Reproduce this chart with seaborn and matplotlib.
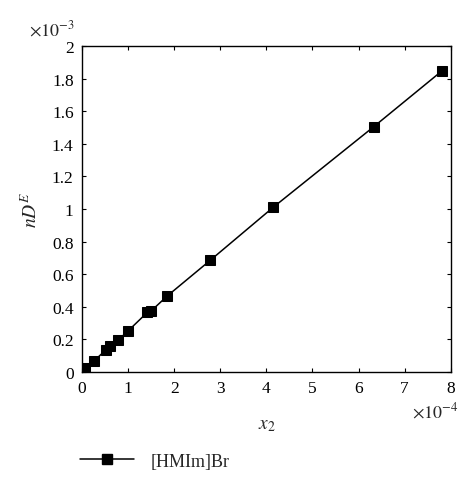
import matplotlib
matplotlib.use("Agg")
import matplotlib.pyplot as plt
import seaborn as sns
import pandas as pd

# mole fraction x2 (units of 1e-4) and nD^E (units of 1e-3)
x2_e4 = [0.07, 0.27, 0.51, 0.60, 0.78, 0.99, 1.42, 1.50, 1.85, 2.78, 4.15, 6.33, 7.80]
nde_e3 = [0.025, 0.071, 0.134, 0.160, 0.196, 0.250, 0.367, 0.375, 0.467, 0.685, 1.011, 1.505, 1.845]
series_name = "[HMIm]Br"
x_ticks = [0, 1, 2, 3, 4, 5, 6, 7, 8]
y_ticks = [0, 0.2, 0.4, 0.6, 0.8, 1.0, 1.2, 1.4, 1.6, 1.8, 2.0]
y_tick_labels = ["0", "0.2", "0.4", "0.6", "0.8", "1", "1.2", "1.4", "1.6", "1.8", "2"]

df = pd.DataFrame({"x2": x2_e4, "nDE": nde_e3, "salt": series_name})

sns.set_theme(style="ticks")
plt.rcParams["font.family"] = ["Liberation Serif", "DejaVu Serif"]
plt.rcParams["mathtext.fontset"] = "stix"
plt.rcParams["xtick.direction"] = "in"
plt.rcParams["ytick.direction"] = "in"

fig = plt.figure(figsize=(4.74, 4.89), dpi=100)
ax = fig.add_axes([0.173, 0.237, 0.778, 0.667])

sns.lineplot(data=df, x="x2", y="nDE", hue="salt", palette=["black"],
             marker="s", markersize=7.3, markeredgecolor="black",
             linewidth=1.1, ax=ax, legend=False)

ax.set_xlim(0, 8)
ax.set_ylim(0, 2)
ax.set_xticks(x_ticks)
ax.set_xticklabels([str(t) for t in x_ticks])
ax.set_yticks(y_ticks)
ax.set_yticklabels(y_tick_labels)
ax.tick_params(axis="both", labelsize=12.5, length=3, width=0.8, colors="black",
               top=True, right=True, pad=6)
for s in ax.spines.values():
    s.set_linewidth(1.0)
    s.set_color("black")

ax.set_xlabel("$x_2$", fontsize=14, labelpad=14)
ax.set_ylabel("$nD^E$", fontsize=14, labelpad=8)

# scale factors like MATLAB
ax.text(-0.02, 1.02, r"$\times10^{-3}$", transform=ax.transAxes, ha="right",
        va="bottom", fontsize=13)
ax.text(1.02, -0.09, r"$\times10^{-4}$", transform=ax.transAxes, ha="right",
        va="top", fontsize=13)

handle = plt.Line2D([], [], color="black", marker="s", markersize=7.3, linewidth=1.1)
fig.legend([handle], [series_name], loc="center left", bbox_to_anchor=(0.135, 0.055),
           frameon=False, fontsize=13, handlelength=3.0, handletextpad=0.9)

fig.savefig("out.png", dpi=100)
